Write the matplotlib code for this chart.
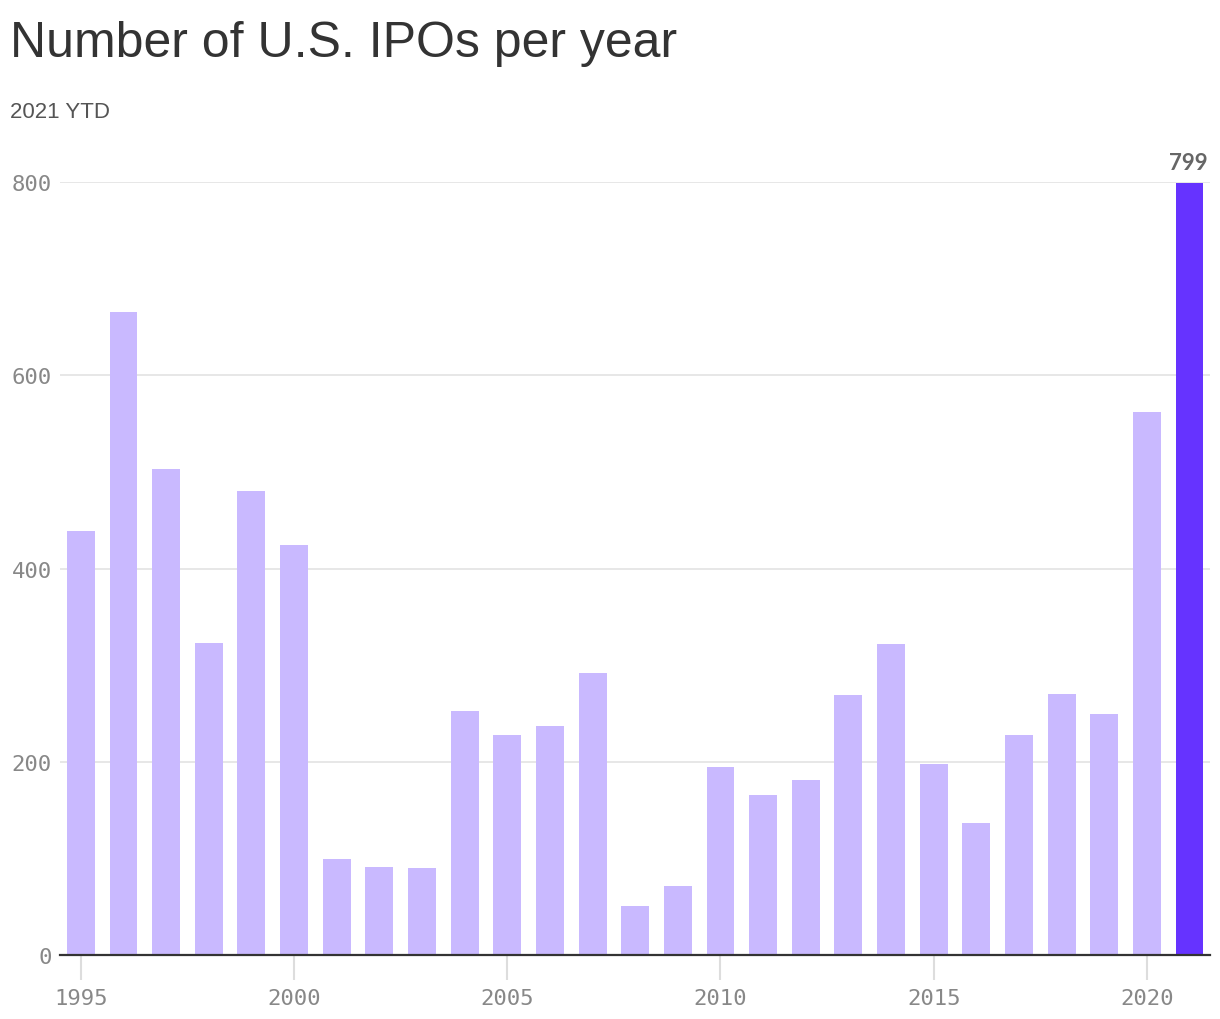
import matplotlib
matplotlib.use("Agg")
import matplotlib.pyplot as plt
from matplotlib import font_manager

years = list(range(1995, 2022))
ipos = [439, 665, 503, 323, 480, 424, 99, 91, 90, 253, 228, 237, 292, 51, 71,
        195, 166, 181, 269, 322, 198, 137, 228, 270, 249, 562, 799]
xticks = [1995, 2000, 2005, 2010, 2015, 2020]
yticks = [0, 200, 400, 600, 800]
title = "Number of U.S. IPOs per year"
subtitle = "2021 YTD"

names = {f.name for f in font_manager.fontManager.ttflist}
title_font = ["Liberation Sans Narrow", "Liberation Sans", "DejaVu Sans"] if "Liberation Sans Narrow" in names else ["Liberation Sans", "DejaVu Sans"]
mono = ["DejaVu Sans Mono"]

W, H = 1220, 1020
fig = plt.figure(figsize=(W / 100, H / 100), dpi=100)
ax = fig.add_axes([60 / W, (H - 956) / H, (1210 - 60) / W, (956 - 183) / H])

colors = ["#C9B9FF"] * (len(years) - 1) + ["#6633FF"]
ax.bar(years, ipos, width=0.655, color=colors, zorder=2)

ax.set_xlim(1994.51, 2021.48)
ax.set_ylim(0, 800)
ax.set_yticks(yticks)
ax.set_xticks(xticks)
ax.set_xticklabels([str(x) for x in xticks], family=mono, fontsize=16, color="#888888")
ax.set_yticklabels([str(y) for y in yticks], family=mono, fontsize=16, color="#888888")
ax.grid(axis="y", color="#E3E3E3", linewidth=1.2, zorder=0)
ax.tick_params(axis="y", length=0, pad=6)
ax.tick_params(axis="x", length=18, width=1.5, color="#DDDDDD", pad=6)
for s in ["top", "right", "left"]:
    ax.spines[s].set_visible(False)
ax.spines["bottom"].set_color("#333333")
ax.spines["bottom"].set_linewidth(1.6)
ax.spines["bottom"].set_zorder(3)

ax.annotate(str(ipos[-1]), xy=(years[-1], ipos[-1]), xytext=(13, 7), textcoords="offset points",
            ha="right", va="bottom", fontsize=16, fontweight="bold", color="#666666",
            family=["Lato", "DejaVu Sans"], annotation_clip=False)

fig.text(10 / W, 1 - 44 / H, title, fontsize=36, color="#333333", family=title_font, va="center", ha="left")
fig.text(10 / W, 1 - 113 / H, subtitle, fontsize=16, color="#555555", family=title_font, va="center", ha="left")

fig.savefig("out.png", dpi=100, facecolor="white")
